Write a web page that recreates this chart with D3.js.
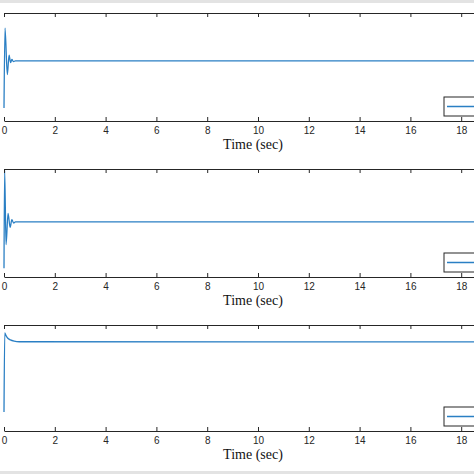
<!DOCTYPE html>
<html>
<head>
<meta charset="utf-8">
<script src="https://cdn.jsdelivr.net/npm/d3@7"></script>
<style>
  html, body { margin: 0; padding: 0; background: #fff; }
  svg { display: block; }
</style>
</head>
<body>
<div id="chart"></div>
<script>
// Tick values along the time axis (20 falls outside the crop)
const xTicks = [0, 2, 4, 6, 8, 10, 12, 14, 16, 18];

// Response of each panel (time in sec, normalised value)
const time1 = [0, 0.04, 0.13, 0.20, 0.26, 0.31, 0.37, 0.45, 20];
const resp1 = [0.12, 0.86, 0.43, 0.61, 0.54, 0.57, 0.55, 0.556, 0.556];

const time2 = [0, 0.025, 0.08, 0.16, 0.24, 0.31, 0.38, 0.45, 20];
const resp2 = [0.08, 0.99, 0.30, 0.59, 0.46, 0.53, 0.50, 0.51, 0.51];

const time3 = [0, 0.03, 0.08, 0.15, 0.25, 0.40, 0.60, 20];
const resp3 = [0.18, 0.925, 0.90, 0.875, 0.86, 0.848, 0.842, 0.84];

const panels = [
  { time: time1, resp: resp1, top: 13, height: 108 },
  { time: time2, resp: resp2, top: 169, height: 108 },
  { time: time3, resp: resp3, top: 325, height: 106 }
];

const width = 474;
const height = 474;
const axisColor = '#262626';
const lineColor = '#2a7fc4';

const svg = d3.select('#chart').append('svg')
  .attr('width', width)
  .attr('height', height);

// light grey figure edge at top and bottom
svg.append('rect').attr('x', 0).attr('y', 0).attr('width', width).attr('height', 3).attr('fill', '#e3e3e3');
svg.append('rect').attr('x', 0).attr('y', 471).attr('width', width).attr('height', 3).attr('fill', '#e3e3e3');

const x = d3.scaleLinear().domain([0, 20]).range([4, 512]);

panels.forEach(p => {
  const y = d3.scaleLinear().domain([0, 1]).range([p.top + p.height, p.top]);
  const g = svg.append('g');

  // signal
  const pts = p.time.map((t, i) => [t, p.resp[i]]);
  const line = d3.line()
    .x(d => x(d[0]))
    .y(d => y(d[1]))
    .curve(d3.curveMonotoneX);
  g.append('path')
    .datum(pts)
    .attr('fill', 'none')
    .attr('stroke', lineColor)
    .attr('stroke-width', 1.3)
    .attr('d', line);

  // bottom axis with inward ticks
  const bottom = g.append('g')
    .attr('transform', `translate(0,${p.top + p.height})`)
    .call(d3.axisBottom(x).tickValues(xTicks).tickSizeInner(-4).tickSizeOuter(0).tickPadding(6));
  bottom.select('.domain').attr('stroke', axisColor).attr('stroke-width', 1.2);
  bottom.selectAll('.tick line').attr('stroke', axisColor);
  bottom.selectAll('.tick text')
    .attr('fill', axisColor)
    .style('font', "10px 'Liberation Sans', Arial, sans-serif");

  // top axis, ticks only
  const topAx = g.append('g')
    .attr('transform', `translate(0,${p.top})`)
    .call(d3.axisTop(x).tickValues(xTicks).tickSizeInner(-4).tickSizeOuter(0).tickFormat(''));
  topAx.select('.domain').attr('stroke', axisColor).attr('stroke-width', 1.2);
  topAx.selectAll('.tick line').attr('stroke', axisColor);

  // x label
  g.append('text')
    .attr('x', x(10) - 5)
    .attr('y', p.top + p.height + 28)
    .attr('text-anchor', 'middle')
    .attr('fill', '#111')
    .style('font', "14px 'Liberation Serif', 'Times New Roman', serif")
    .text('Time (sec)');

  // legend box (cut by the right edge)
  const lb = p.top + p.height - 5;
  g.append('rect')
    .attr('x', 444)
    .attr('y', lb - 19)
    .attr('width', 60)
    .attr('height', 19)
    .attr('fill', '#fff')
    .attr('stroke', axisColor)
    .attr('stroke-width', 1);
  g.append('line')
    .attr('x1', 447)
    .attr('x2', 500)
    .attr('y1', lb - 9.5)
    .attr('y2', lb - 9.5)
    .attr('stroke', lineColor)
    .attr('stroke-width', 1.3);
});
</script>
</body>
</html>
